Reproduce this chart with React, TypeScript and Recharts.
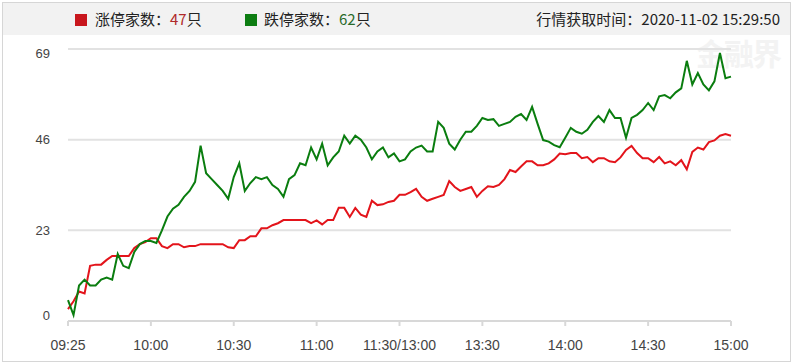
import React from 'react';
import { LineChart, Line, XAxis, YAxis, CartesianGrid } from 'recharts';

// minute offsets from 09:25, one point every 2 minutes (lunch break skipped)
const tickLabels = ['09:25', '10:00', '10:30', '11:00', '11:30/13:00', '13:30', '14:00', '14:30', '15:00'];
const xTicks = [0, 30, 60, 90, 120, 150, 180, 210, 240];
const yTicks = [0, 23, 46, 69];

// 涨停家数
const limitUp = [
  3, 5, 7.5, 7, 14, 14.3, 14.3, 15.5, 16.5, 16.5, 16.5, 16.5, 18.5, 19.5, 20, 21,
  21, 19, 18.5, 19.5, 19.5, 18.7, 19, 19, 19.5, 19.5, 19.5, 19.5, 19.5, 18.7, 18.5,
  20.5, 20.5, 21.5, 21.5, 23.5, 23.5, 24.3, 24.8, 25.6, 25.6, 25.6, 25.6, 25.6, 24.8, 25.5,
  24.5, 25.6, 25.6, 28.7, 28.7, 26.4, 28.7, 27, 26.4, 30.5, 29.4, 29.6, 30.2, 30.5, 32,
  32, 32.7, 33.5, 31.5, 30.5, 31, 31.5, 32, 35.5, 34, 33, 33.5, 34, 31.5, 33,
  34.2, 34, 34.5, 36, 38.3, 37.8, 39.2, 40.5, 40.5, 39.5, 39.5, 40, 41, 42.5, 42.3,
  42.6, 42.6, 41.3, 41.6, 40.3, 41.3, 41.3, 40.5, 40.3, 41.5, 43.4, 44.4, 42.6, 41.3, 41.3,
  40.3, 41.6, 40, 40.5, 39.5, 40.8, 38.5, 42.9, 44, 43.5, 45.4, 45.8, 47, 47.4, 47,
];

// 跌停家数
const limitDown = [
  5.3, 1.5, 9, 10.5, 9, 9, 10.5, 11, 10.5, 17, 14, 13.4, 17.5, 19.5, 20.3, 20.3,
  19.8, 23, 26.5, 28.5, 29.5, 31.5, 33, 35.3, 44.5, 37.5, 36, 34.5, 33, 31, 36.5,
  40, 33, 35, 36.5, 36, 36.5, 34.5, 33.5, 31.5, 36, 37, 40, 39.5, 44, 41,
  45, 39.5, 41.5, 43, 47, 45, 47, 46, 44, 41, 43, 44, 41.5, 42.5, 40.5,
  41, 43, 44, 44.5, 43, 43, 50.5, 49, 45, 43.5, 46, 48, 48, 49.5, 51.5,
  51, 51.2, 49.5, 50, 50.5, 51.8, 52.5, 51, 54.3, 50, 45.9, 45.5, 44.6, 44.1, 46.5,
  49, 48, 47.5, 48.5, 50.5, 52, 50.5, 53.5, 51.5, 51.5, 46.5, 51.5, 52.3, 53.5, 55.3,
  53.5, 57, 57.3, 56.5, 58, 59, 66, 60, 62.9, 60, 58.5, 60.8, 68, 61.6, 62,
];

const data = limitUp.map((up, i) => ({ t: i * 2, up, down: limitDown[i] }));

const axisFont = '"Liberation Sans", Arial, sans-serif';
const cjkFont = '"Noto Sans CJK SC", "Noto Sans", sans-serif';

const YTick = (props: any) => {
  const { x, y, payload } = props;
  const shift = payload.value === 0 ? -6 : payload.value === 69 ? 4 : 0;
  return (
    <text x={x} y={y + shift} dy="0.355em" textAnchor="end" fontSize={13} fill="#444" fontFamily={axisFont}>
      {payload.value}
    </text>
  );
};

export default function App() {
  return (
    <div style={{ position: 'absolute', left: 0, top: 0, width: 794, height: 364, background: '#fff', overflow: 'hidden' }}>
      <div style={{ position: 'absolute', left: 2, top: 2, width: 787, height: 358, border: '1px solid #d6d6d6' }} />
      <div style={{ position: 'absolute', left: 3, top: 3, width: 787, height: 32, background: '#f2f2f2' }} />
      <div
        style={{
          position: 'absolute', right: 14, top: 30, fontSize: 30, fontWeight: 'bold',
          color: '#f3f3f3', fontFamily: cjkFont, letterSpacing: -2,
        }}
      >
        金融界
      </div>
      <div style={{ position: 'absolute', left: 75, top: 14, width: 12, height: 12, background: '#c8161d' }} />
      <div style={{ position: 'absolute', left: 95, top: 9, fontSize: 15, fontFamily: cjkFont, color: '#222', lineHeight: '20px' }}>
        涨停家数：<span style={{ color: '#b02a2a' }}>47</span>只
      </div>
      <div style={{ position: 'absolute', left: 245, top: 14, width: 12, height: 12, background: '#0d7d12' }} />
      <div style={{ position: 'absolute', left: 264, top: 9, fontSize: 15, fontFamily: cjkFont, color: '#222', lineHeight: '20px' }}>
        跌停家数：<span style={{ color: '#2a6a2a' }}>62</span>只
      </div>
      <div style={{ position: 'absolute', right: 14, top: 9, fontSize: 15, fontFamily: cjkFont, color: '#222', lineHeight: '20px' }}>
        行情获取时间：2020-11-02 15:29:50
      </div>
      <div style={{ position: 'absolute', left: 0, top: 0 }}>
        <LineChart width={794} height={364} data={data} margin={{ top: 49, right: 63, bottom: 13, left: 28 }}>
          <CartesianGrid vertical={false} stroke="#e2e2e2" strokeWidth={2} />
          <XAxis
            dataKey="t"
            type="number"
            domain={[0, 240]}
            ticks={xTicks}
            tickFormatter={(v: number) => tickLabels[xTicks.indexOf(v)]}
            height={30}
            stroke="#d8d8d8"
            strokeWidth={2}
            tickSize={5}
            tickMargin={14}
            tick={{ fontSize: 14, fill: '#444', fontFamily: axisFont }}
            interval={0}
          />
          <YAxis
            type="number"
            domain={[0, 69]}
            ticks={yTicks}
            width={40}
            axisLine={false}
            tickLine={false}
            tickSize={6}
            tickMargin={12}
            tick={<YTick />}
            interval={0}
          />
          <Line type="linear" dataKey="up" stroke="#e3141b" strokeWidth={2} dot={false} isAnimationActive={false} />
          <Line type="linear" dataKey="down" stroke="#0a7d0f" strokeWidth={2} dot={false} isAnimationActive={false} />
        </LineChart>
      </div>
    </div>
  );
}
